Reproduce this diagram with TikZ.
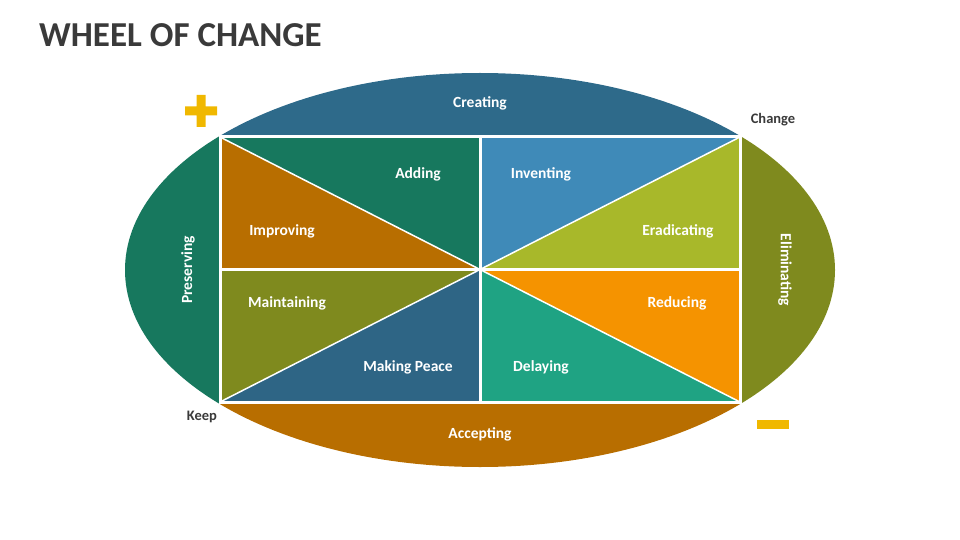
\documentclass[tikz,border=0pt]{standalone}
\usepackage{fontspec}
\setmainfont{Carlito}
\definecolor{cblue}{HTML}{2E6A8A}
\definecolor{cteal}{HTML}{17785E}
\definecolor{colive}{HTML}{7F8A1E}
\definecolor{corange}{HTML}{B86E00}
\definecolor{clblue}{HTML}{3F8AB8}
\definecolor{clime}{HTML}{A8B82A}
\definecolor{cmblue}{HTML}{2E6585}
\definecolor{camber}{HTML}{F59300}
\definecolor{cgreen}{HTML}{1FA383}
\definecolor{cyel}{HTML}{F0B800}
\definecolor{ctitle}{HTML}{3A3A3A}
\begin{document}
\begin{tikzpicture}[x=1pt,y=-1pt,
 lab/.style={text=white,font=\bfseries\fontsize{15.5}{17}\selectfont},
 side/.style={text=ctitle,font=\bfseries\fontsize{14.5}{16}\selectfont}]
\useasboundingbox (0,0) rectangle (960,540);
\node[anchor=west,text=ctitle,font=\bfseries\fontsize{35}{40}\selectfont,inner sep=0] (title) at (39,35) {WHEEL OF CHANGE};
\begin{scope}
\clip (480,270) ellipse [x radius=355, y radius=197];
\fill[cteal] (0,0) rectangle (220,540);
\fill[colive] (740,0) rectangle (960,540);
\fill[cblue] (220,0) rectangle (740,137);
\fill[corange] (220,402) rectangle (740,540);
\end{scope}
\fill[cteal] (220,137)--(480,137)--(480,269)--cycle;
\fill[corange] (220,137)--(220,269)--(480,269)--cycle;
\fill[clblue] (480,137)--(740,137)--(480,269)--cycle;
\fill[clime] (740,137)--(740,269)--(480,269)--cycle;
\fill[colive] (220,269)--(480,269)--(220,402)--cycle;
\fill[cmblue] (220,402)--(480,402)--(480,269)--cycle;
\fill[camber] (480,269)--(740,269)--(740,402)--cycle;
\fill[cgreen] (480,269)--(480,402)--(740,402)--cycle;
\draw[white,line width=3] (220,137) rectangle (740,402);
\draw[white,line width=3] (480,137)--(480,402) (220,269)--(740,269);
\draw[white,line width=1.5] (220,137)--(740,402) (740,137)--(220,402);
\node[lab] (creating) at (480,103) {Creating};
\node[lab] (adding) at (418,174) {Adding};
\node[lab] (inventing) at (541,174) {Inventing};
\node[lab] (improving) at (282,231) {Improving};
\node[lab] (eradicating) at (678,231) {Eradicating};
\node[lab] (maintaining) at (287,303) {Maintaining};
\node[lab] (reducing) at (677,303) {Reducing};
\node[lab] (peace) at (408,367) {Making Peace};
\node[lab] (delaying) at (541,367) {Delaying};
\node[lab] (accepting) at (480,434) {Accepting};
\node[lab,rotate=90] (preserving) at (188,270) {Preserving};
\node[lab,rotate=-90] (eliminating) at (785,270) {Eliminating};
\node[side] (change) at (773,120) {Change};
\node[side] (keep) at (202,417) {Keep};
\fill[cyel] (185,106.5) rectangle (217,115.5) (196.5,95) rectangle (205.5,127);
\fill[cyel] (757,420) rectangle (789,429);
\end{tikzpicture}
\end{document}
